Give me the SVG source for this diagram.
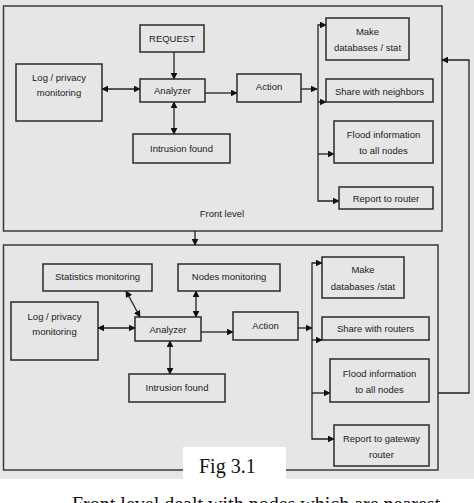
<svg xmlns="http://www.w3.org/2000/svg" width="474" height="503" viewBox="0 0 474 503">
<style>
.frame{fill:#e6e6e6;stroke:#3a3a3a;stroke-width:1.5}
.node{fill:#e6e6e6;stroke:#2a2a2a;stroke-width:1.5}
.t{font-family:"Liberation Sans",Arial,sans-serif;font-size:9.5px;fill:#222;text-anchor:middle}
.c{fill:none;stroke:#222;stroke-width:1.3}
.cap{font-family:"Liberation Serif","Times New Roman",serif;font-size:20px;fill:#111}
</style>
<defs>
<marker id="ah" viewBox="0 0 10 10" refX="9" refY="5" markerWidth="7" markerHeight="7" markerUnits="userSpaceOnUse" orient="auto-start-reverse">
<path d="M0,0 L10,5 L0,10 z" fill="#111"/>
</marker>
</defs>
<rect x="0" y="0" width="474" height="479" fill="#e6e6e6"/>
<rect x="0" y="479" width="474" height="24" fill="#ffffff"/>
<g id="front-level">
<rect class="frame" x="3.5" y="6" width="438.5" height="225"/>
<text class="t" x="222" y="217">Front level</text>
</g>
<g id="second-level">
<rect class="frame" x="3.5" y="245" width="434.5" height="225"/>
</g>
<g id="connectors">
<line class="c" x1="174" y1="52" x2="174" y2="79" marker-end="url(#ah)"/>
<line class="c" x1="102" y1="89" x2="140" y2="89" marker-start="url(#ah)" marker-end="url(#ah)"/>
<line class="c" x1="174" y1="102" x2="174" y2="134" marker-start="url(#ah)" marker-end="url(#ah)"/>
<line class="c" x1="205" y1="93" x2="237" y2="93" marker-end="url(#ah)"/>
<line class="c" x1="301" y1="89" x2="317" y2="89" marker-end="url(#ah)"/>
<polyline class="c" points="326,25 318,25 318,201 339,201" marker-start="url(#ah)" marker-end="url(#ah)"/>
<line class="c" x1="318" y1="102" x2="326" y2="102" marker-end="url(#ah)"/>
<line class="c" x1="318" y1="154" x2="334" y2="154" marker-end="url(#ah)"/>
<line class="c" x1="195" y1="231" x2="195" y2="245" marker-end="url(#ah)"/>
<polyline class="c" points="438,393 469,393 469,60 442,60" marker-end="url(#ah)"/>
<line class="c" x1="126" y1="291" x2="140" y2="317" marker-start="url(#ah)" marker-end="url(#ah)"/>
<line class="c" x1="196" y1="291" x2="196" y2="317" marker-start="url(#ah)" marker-end="url(#ah)"/>
<line class="c" x1="98" y1="328" x2="135" y2="328" marker-start="url(#ah)" marker-end="url(#ah)"/>
<line class="c" x1="170" y1="341" x2="170" y2="374" marker-start="url(#ah)" marker-end="url(#ah)"/>
<line class="c" x1="201" y1="332" x2="233" y2="332" marker-end="url(#ah)"/>
<line class="c" x1="298" y1="328" x2="312" y2="328" marker-end="url(#ah)"/>
<polyline class="c" points="322,263 312,263 312,439 334,439" marker-start="url(#ah)" marker-end="url(#ah)"/>
<line class="c" x1="312" y1="340" x2="322" y2="340" marker-end="url(#ah)"/>
<line class="c" x1="312" y1="393" x2="330" y2="393" marker-end="url(#ah)"/>
</g>
<g id="request"><rect class="node" x="140" y="25" width="64" height="27"/><text class="t" x="172" y="42">REQUEST</text></g>
<g id="log1"><rect class="node" x="16" y="64" width="86" height="57"/><text class="t" x="59" y="81">Log / privacy</text><text class="t" x="59" y="96">monitoring</text></g>
<g id="analyzer1"><rect class="node" x="140" y="79" width="65" height="23"/><text class="t" x="172.5" y="94">Analyzer</text></g>
<g id="intrusion1"><rect class="node" x="133" y="134" width="97" height="29"/><text class="t" x="181.5" y="152">Intrusion found</text></g>
<g id="action1"><rect class="node" x="237" y="74" width="64" height="28"/><text class="t" x="269" y="90">Action</text></g>
<g id="makedb1"><rect class="node" x="326" y="18" width="83" height="42"/><text class="t" x="367.5" y="35">Make</text><text class="t" x="367.5" y="51">databases / stat</text></g>
<g id="share1"><rect class="node" x="326" y="79" width="107" height="23"/><text class="t" x="379.5" y="95">Share with neighbors</text></g>
<g id="flood1"><rect class="node" x="334" y="121" width="99" height="42"/><text class="t" x="383.5" y="138">Flood information</text><text class="t" x="383.5" y="154">to all nodes</text></g>
<g id="report1"><rect class="node" x="339" y="187" width="94" height="22"/><text class="t" x="386" y="202">Report to router</text></g>
<g id="stats2"><rect class="node" x="43" y="264" width="109" height="27"/><text class="t" x="97.5" y="280">Statistics monitoring</text></g>
<g id="nodesmon2"><rect class="node" x="178" y="264" width="102" height="27"/><text class="t" x="229" y="280">Nodes monitoring</text></g>
<g id="log2"><rect class="node" x="11" y="302" width="87" height="58"/><text class="t" x="54.5" y="320">Log / privacy</text><text class="t" x="54.5" y="335">monitoring</text></g>
<g id="analyzer2"><rect class="node" x="135" y="317" width="66" height="24"/><text class="t" x="168" y="333">Analyzer</text></g>
<g id="intrusion2"><rect class="node" x="129" y="374" width="96" height="28"/><text class="t" x="177" y="391">Intrusion found</text></g>
<g id="action2"><rect class="node" x="233" y="312" width="65" height="28"/><text class="t" x="265.5" y="329">Action</text></g>
<g id="makedb2"><rect class="node" x="322" y="257" width="82" height="41"/><text class="t" x="363" y="273">Make</text><text class="t" x="363" y="290">databases /stat</text></g>
<g id="share2"><rect class="node" x="322" y="317" width="107" height="23"/><text class="t" x="375.5" y="332">Share with routers</text></g>
<g id="flood2"><rect class="node" x="330" y="359" width="99" height="43"/><text class="t" x="379.5" y="377">Flood information</text><text class="t" x="379.5" y="393">to all nodes</text></g>
<g id="report2"><rect class="node" x="334" y="425" width="95" height="41"/><text class="t" x="381.5" y="442">Report to gateway</text><text class="t" x="381.5" y="458">router</text></g>
<g id="caption">
<rect x="183" y="447" width="103" height="33" fill="#ffffff"/>
<text class="cap" x="199" y="473">Fig 3.1</text>
<text class="cap" x="72" y="511">Front level dealt with nodes which are nearest</text>
</g>
</svg>
